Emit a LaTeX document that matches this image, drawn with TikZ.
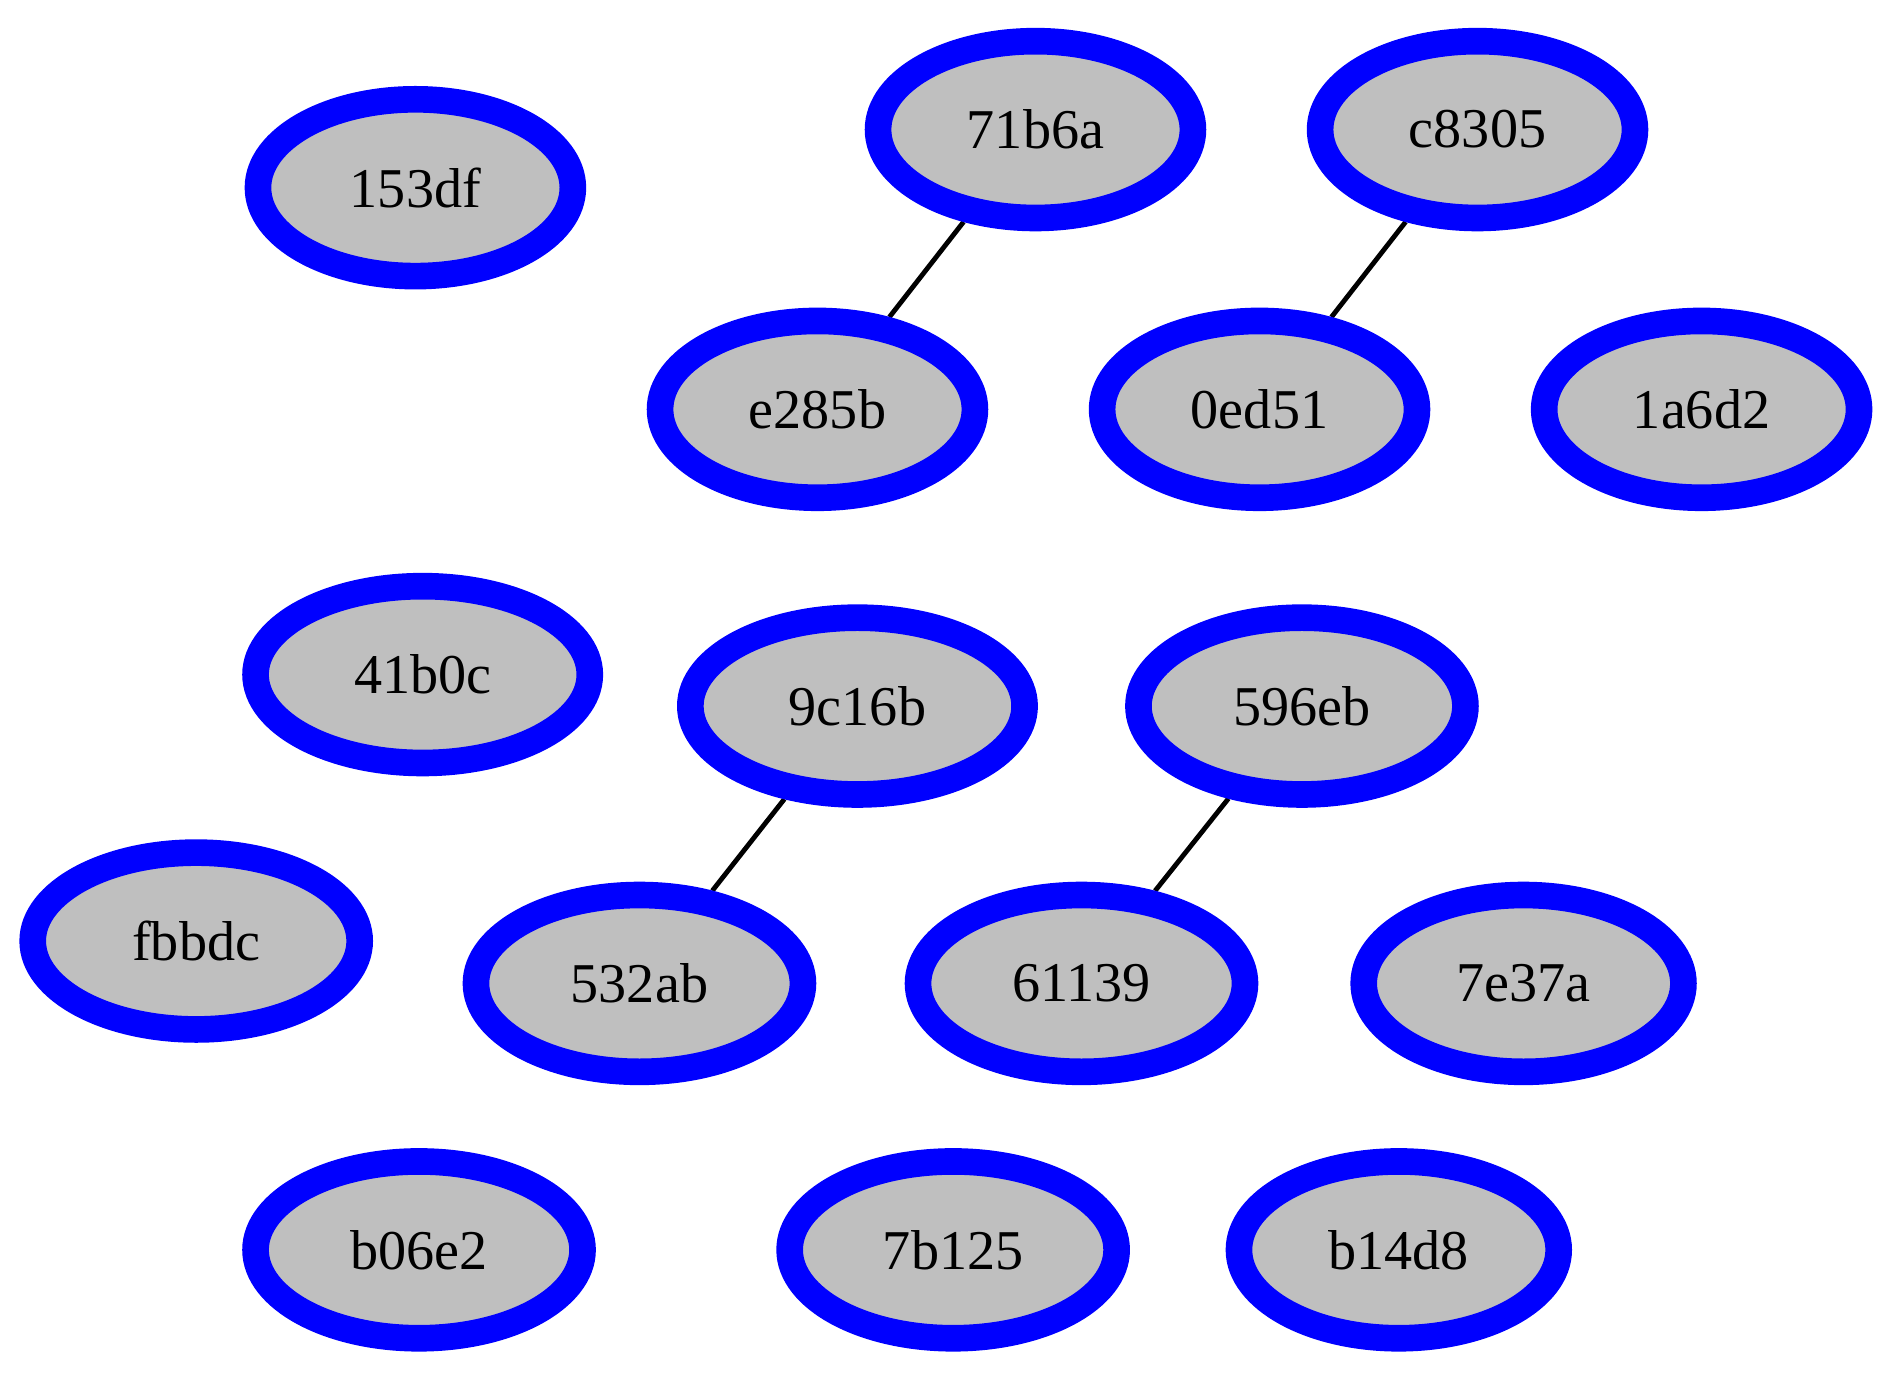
\documentclass[tikz,border=0pt]{standalone}
\usepackage{fontspec}
\setmainfont{Liberation Serif}
\usetikzlibrary{shapes.geometric,backgrounds}
\begin{document}
\begin{tikzpicture}[x=0.05cm,y=-0.05cm,
  nd/.style={ellipse,draw=blue,fill=black!25,line width=1.1cm,minimum width=13cm,minimum height=7.3cm,inner sep=0pt,font=\fontsize{66}{70}\selectfont},
  ed/.style={line width=0.2cm,black}]
\useasboundingbox (0,0) rectangle (1568,1137);
\node[nd] (153df) at (343,155) {153df};
\node[nd] (71b6a) at (855,107) {71b6a};
\node[nd] (c8305) at (1220,107) {c8305};
\node[nd] (e285b) at (675,338) {e285b};
\node[nd] (0ed51) at (1040,338) {0ed51};
\node[nd] (1a6d2) at (1405,338) {1a6d2};
\node[nd,minimum width=13.8cm] (41b0c) at (349,557) {41b0c};
\node[nd,minimum width=13.8cm] (9c16b) at (708,583) {9c16b};
\node[nd,minimum width=13.5cm] (596eb) at (1075,583) {596eb};
\node[nd,minimum width=13.5cm] (fbbdc) at (162,777) {fbbdc};
\node[nd,minimum width=13.5cm] (532ab) at (528,812) {532ab};
\node[nd,minimum width=13.5cm] (61139) at (893,812) {61139};
\node[nd,minimum width=13.2cm] (7e37a) at (1258,812) {7e37a};
\node[nd,minimum width=13.5cm] (b06e2) at (346,1032) {b06e2};
\node[nd,minimum width=13.5cm] (7b125) at (787,1032) {7b125};
\node[nd,minimum width=13.2cm] (b14d8) at (1155,1032) {b14d8};
\begin{scope}[on background layer]
\draw[ed] (71b6a) -- (e285b);
\draw[ed] (c8305) -- (0ed51);
\draw[ed] (9c16b) -- (532ab);
\draw[ed] (596eb) -- (61139);
\end{scope}
\end{tikzpicture}
\end{document}
